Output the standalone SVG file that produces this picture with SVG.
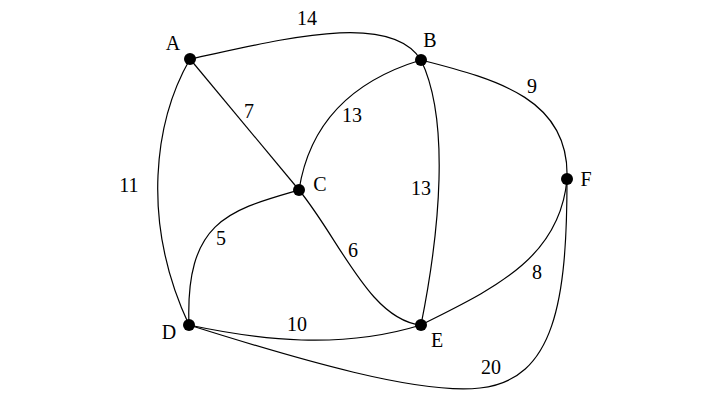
<svg xmlns="http://www.w3.org/2000/svg" width="720" height="405" viewBox="0 0 720 405">
<style>
.e{fill:none;stroke:#000;stroke-width:1.2}
.n{fill:#000}
text{font-family:"Liberation Serif","DejaVu Serif",serif;font-size:20px;fill:#000;text-anchor:middle;dominant-baseline:central}
</style>
<rect width="720" height="405" fill="#fff"/>
<g id="edges">
<path class="e" d="M190,59 C280,40 390,10 421,60"/>
<path class="e" d="M190,59 L299,190"/>
<path class="e" d="M190,59 C155,120 140,220 189,325"/>
<path class="e" d="M421,60 C355,80 310,120 299,190"/>
<path class="e" d="M421,60 C450,120 440,230 421,325"/>
<path class="e" d="M421,60 C500,80 570,100 567,179"/>
<path class="e" d="M299,190 C340,240 370,320 421,325"/>
<path class="e" d="M299,190 C230,210 185,220 189,325"/>
<path class="e" d="M189,325 C260,340 340,350 421,325"/>
<path class="e" d="M189,325 C300,360 420,395 480,388 C555,380 567,300 567,179"/>
<path class="e" d="M421,325 C490,290 560,260 567,179"/>
<text x="307" y="18">14</text>
<text x="249" y="111">7</text>
<text x="352" y="115">13</text>
<text x="532" y="86">9</text>
<text x="129" y="185">11</text>
<text x="421" y="188">13</text>
<text x="221" y="238">5</text>
<text x="353" y="250">6</text>
<text x="537" y="272">8</text>
<text x="297" y="324">10</text>
<text x="491" y="367">20</text>
</g>
<g id="A"><circle class="n" cx="190" cy="59" r="6"/><text x="173" y="43">A</text></g>
<g id="B"><circle class="n" cx="421" cy="60" r="6"/><text x="430" y="40">B</text></g>
<g id="C"><circle class="n" cx="299" cy="190" r="6"/><text x="320" y="184">C</text></g>
<g id="D"><circle class="n" cx="189" cy="325" r="6"/><text x="169" y="332">D</text></g>
<g id="E"><circle class="n" cx="421" cy="325" r="6"/><text x="437" y="340">E</text></g>
<g id="F"><circle class="n" cx="567" cy="179" r="6"/><text x="586" y="179">F</text></g>
</svg>
